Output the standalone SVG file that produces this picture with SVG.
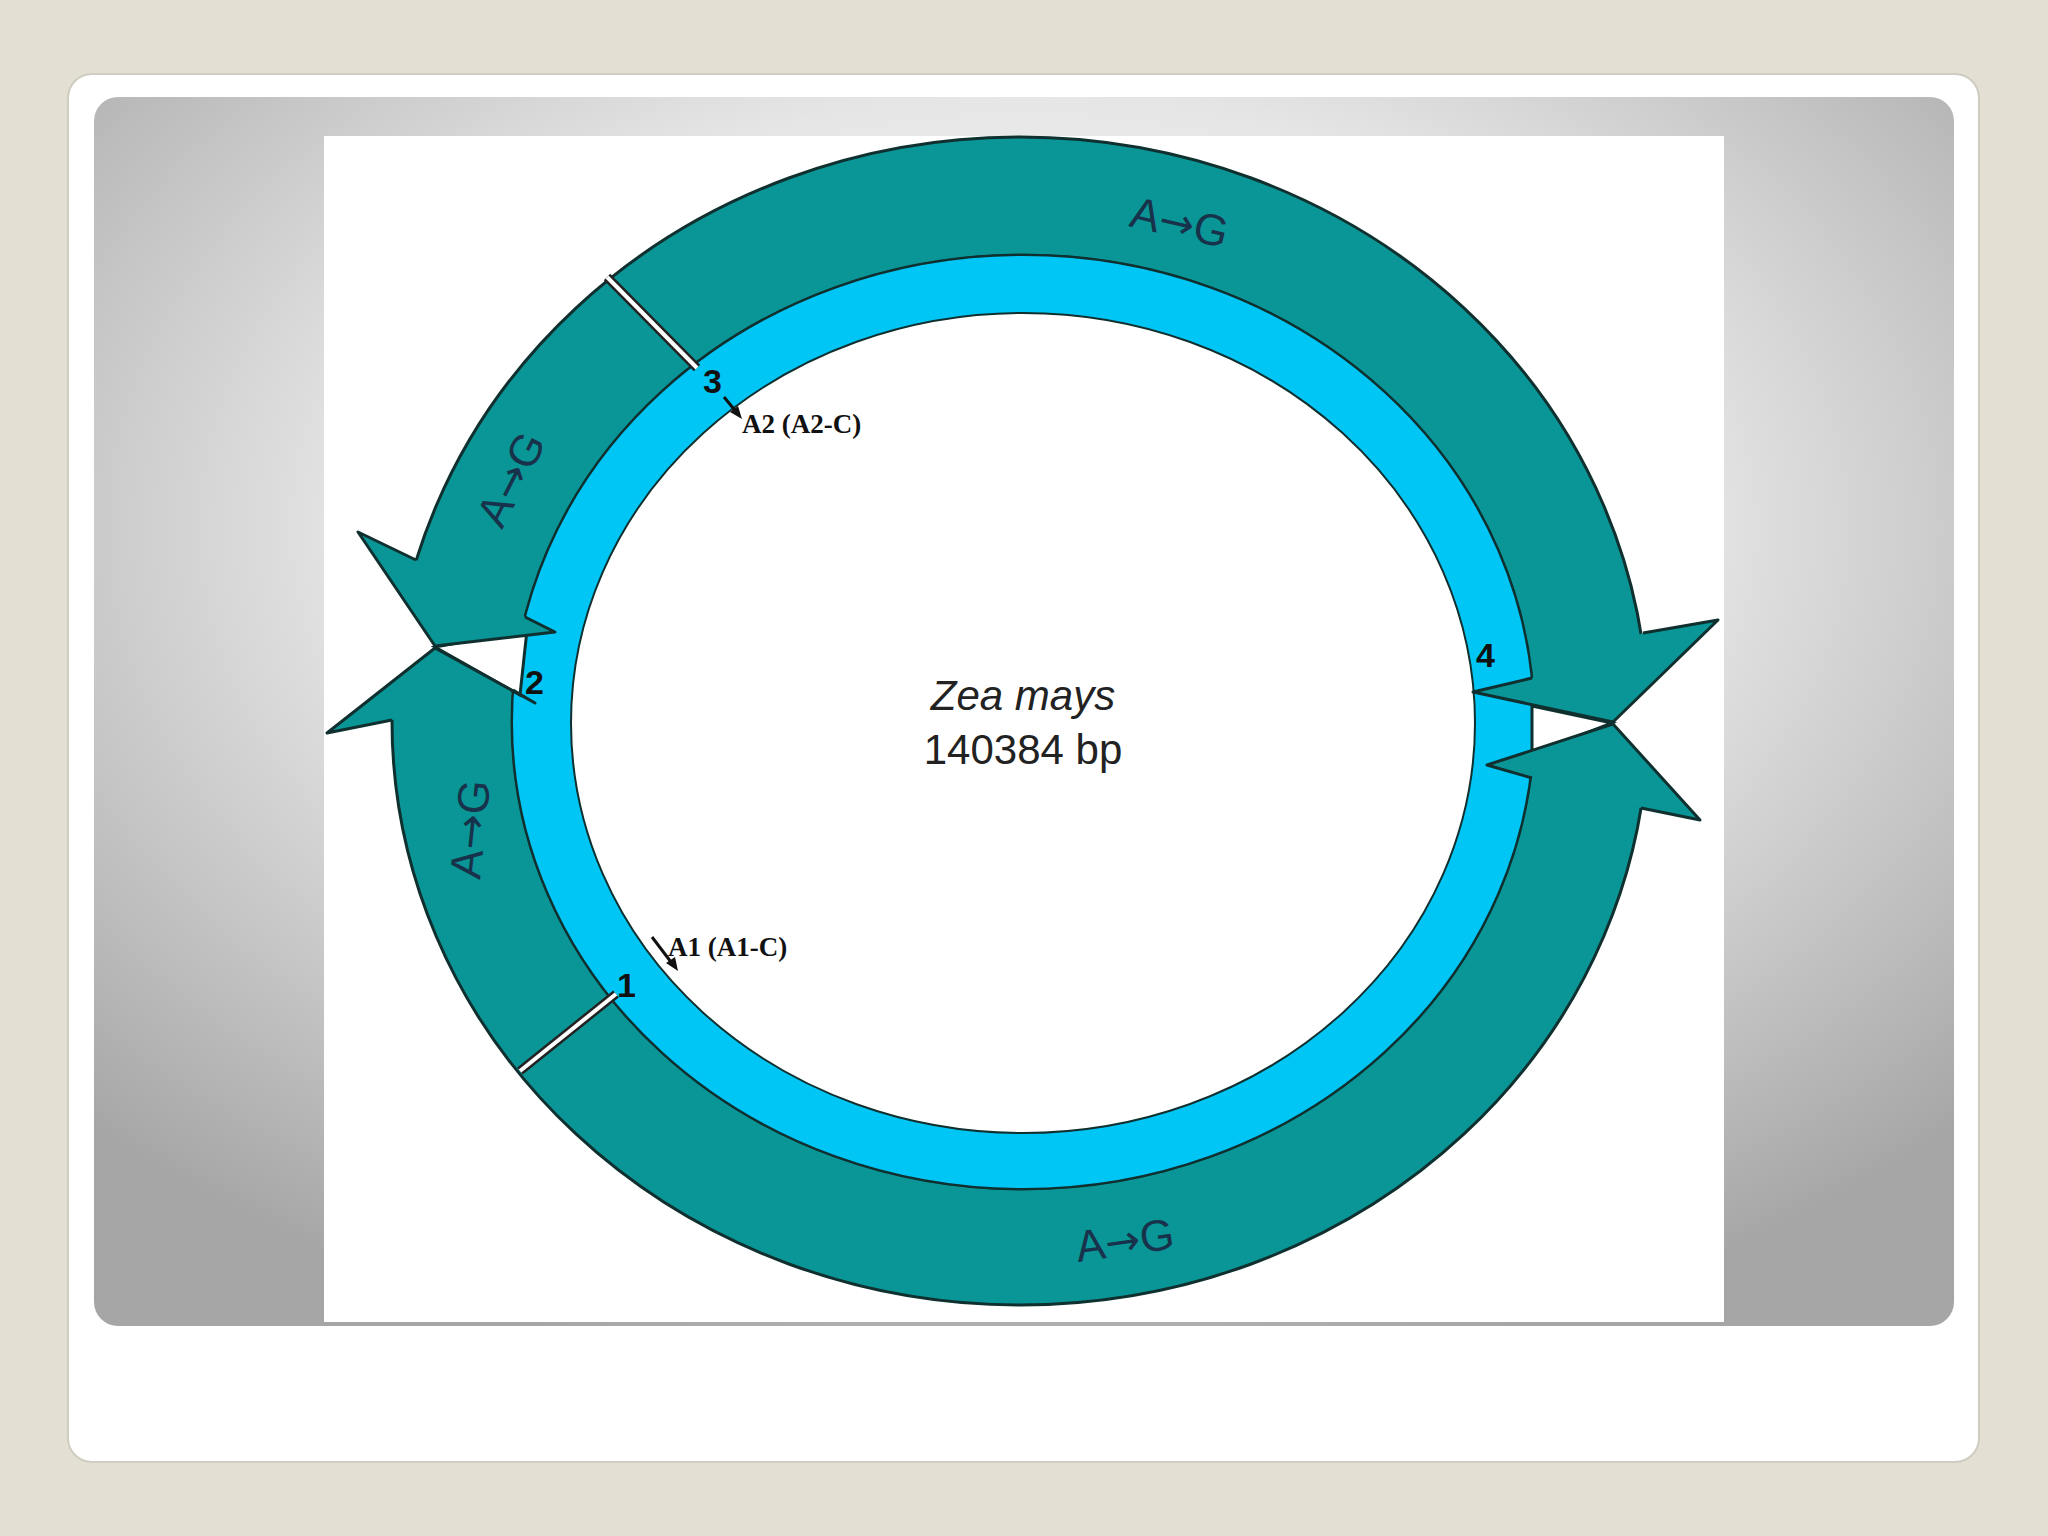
<svg xmlns="http://www.w3.org/2000/svg" width="2048" height="1536" viewBox="0 0 2048 1536">
<defs>
<radialGradient id="g" cx="0.5" cy="0.35" r="0.7"><stop offset="0" stop-color="#ffffff"/><stop offset="0.5" stop-color="#e6e6e6"/><stop offset="1" stop-color="#a6a6a6"/></radialGradient>
<style>
.teal{fill:#0a9696;stroke:#103030;stroke-width:3;stroke-linejoin:round}
.hf{fill:#0a9696;stroke:none}
.he{fill:none;stroke:#103030;stroke-width:3;stroke-linejoin:round}
.lab{font-family:"Liberation Sans",Arial,sans-serif;font-size:44px;fill:#17324a}
.ar{font-family:"DejaVu Sans",sans-serif;font-size:42px}
.num{font-family:"Liberation Sans",Arial,sans-serif;font-size:34px;font-weight:bold;fill:#111}
.sm{font-family:"Liberation Serif","Times New Roman",serif;font-size:27px;font-weight:bold;fill:#111}
.ctr{font-family:"Liberation Sans",Arial,sans-serif;font-size:42px;fill:#222;text-anchor:middle}
</style>
</defs>
<rect width="2048" height="1536" fill="#e3e0d3"/>
<rect x="68" y="74" width="1911" height="1388" rx="24" fill="#fff" stroke="#cfccc0" stroke-width="2"/>
<rect x="94" y="97" width="1860" height="1229" rx="24" fill="url(#g)"/>
<rect x="324" y="136" width="1400" height="1186" fill="#fff"/>
<g id="ring">
<path class="teal" fill-rule="evenodd" d="M392,721a628,584 0 1,0 1256,0a628,584 0 1,0 -1256,0Z M512,722a511,467 0 1,0 1022,0a511,467 0 1,0 -1022,0Z"/>
<path fill="#00c6f6" stroke="#103030" stroke-width="2" fill-rule="evenodd" d="M512,722a511,467 0 1,0 1022,0a511,467 0 1,0 -1022,0Z M571,723a452,410 0 1,0 904,0a452,410 0 1,0 -904,0Z"/>
</g>
<g id="heads">
<polygon fill="#fff" points="435,647 385,560 380,735"/>
<polygon fill="#fff" points="1613,723 1665,630 1665,815"/>
<polygon fill="#fff" stroke="#103030" stroke-width="3" points="435,647 527,630 520,695"/>
<polygon fill="#fff" stroke="#103030" stroke-width="3" points="1612,723 1532,706 1532,754"/>
<polygon class="hf" points="358,532 416,560 525,617 555,632 435,646"/>
<polyline class="he" points="416,560 358,532 435,646 555,632 525,617"/>
<polygon class="hf" points="435,648 327,733 392,720 513,690 535,703"/>
<polyline class="he" points="392,720 327,733 435,648 535,703 513,690"/>
<polygon class="hf" points="1718,620 1643,633 1532,678 1473,692 1613,722"/>
<polyline class="he" points="1643,633 1718,620 1613,722 1473,692 1532,678"/>
<polygon class="hf" points="1613,724 1700,820 1641,808 1532,778 1487,765"/>
<polyline class="he" points="1641,808 1700,820 1613,724 1487,765 1532,778"/>
</g>
<g id="connectors">
<line x1="607" y1="277" x2="697" y2="368" stroke="#222" stroke-width="9"/>
<line x1="607" y1="277" x2="697" y2="368" stroke="#fff" stroke-width="4"/>
<line x1="520" y1="1071" x2="616" y2="994" stroke="#222" stroke-width="9"/>
<line x1="520" y1="1071" x2="616" y2="994" stroke="#fff" stroke-width="4"/>
<line x1="724" y1="397" x2="738" y2="414" stroke="#111" stroke-width="3"/>
<polygon points="742,419 730,412 738,406" fill="#111"/>
<line x1="652" y1="937" x2="674" y2="966" stroke="#111" stroke-width="3"/>
<polygon points="678,971 666,963 675,957" fill="#111"/>
</g>
<g id="labels">
<text class="lab" transform="translate(1128,226) rotate(13)">A<tspan class="ar">→</tspan>G</text>
<text class="lab" transform="translate(502,530) rotate(-63)">A<tspan class="ar">→</tspan>G</text>
<text class="lab" transform="translate(480,880) rotate(-84)">A<tspan class="ar">→</tspan>G</text>
<text class="lab" transform="translate(1078,1262) rotate(-8)">A<tspan class="ar">→</tspan>G</text>
<text class="num" x="703" y="393">3</text>
<text class="num" x="525" y="694">2</text>
<text class="num" x="1476" y="667">4</text>
<text class="num" x="617" y="997">1</text>
<text class="sm" x="742" y="433">A2  (A2-C)</text>
<text class="sm" x="668" y="956">A1 (A1-C)</text>
<text class="ctr" x="1023" y="710" font-style="italic">Zea mays</text>
<text class="ctr" x="1023" y="764">140384 bp</text>
</g>
</svg>
